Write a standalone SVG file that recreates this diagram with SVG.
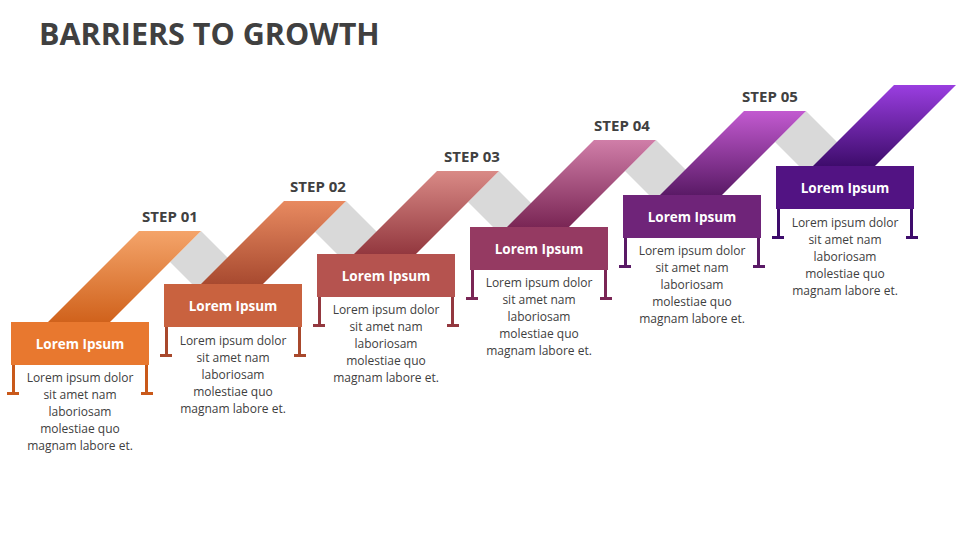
<svg xmlns="http://www.w3.org/2000/svg" width="960" height="540" viewBox="0 0 960 540">
<style>
.t{font-family:"Open Sans","Liberation Sans",sans-serif;font-weight:bold;font-size:30.5px;fill:#404040}
.s{font-family:"Open Sans","Liberation Sans",sans-serif;font-weight:bold;font-size:15px;fill:#404040;text-anchor:middle}
.h{font-family:"Open Sans","Liberation Sans",sans-serif;font-weight:bold;font-size:13.5px;fill:#fff;text-anchor:middle}
.b{font-family:"Open Sans","Liberation Sans",sans-serif;font-size:12px;fill:#404040;text-anchor:middle}
.g{fill:#d9d9d9}
</style>
<defs>
<linearGradient id="r1" x1="0" y1="1" x2="0" y2="0"><stop offset="0" stop-color="#d0621c"/><stop offset="1" stop-color="#f4a46a"/></linearGradient>
<linearGradient id="r2" x1="0" y1="1" x2="0" y2="0"><stop offset="0" stop-color="#a84a30"/><stop offset="1" stop-color="#e88a60"/></linearGradient>
<linearGradient id="r3" x1="0" y1="1" x2="0" y2="0"><stop offset="0" stop-color="#93383f"/><stop offset="1" stop-color="#d98a86"/></linearGradient>
<linearGradient id="r4" x1="0" y1="1" x2="0" y2="0"><stop offset="0" stop-color="#7a2655"/><stop offset="1" stop-color="#d07ea8"/></linearGradient>
<linearGradient id="r5" x1="0" y1="1" x2="0" y2="0"><stop offset="0" stop-color="#5a1a66"/><stop offset="1" stop-color="#c25ad0"/></linearGradient>
<linearGradient id="r6" x1="0" y1="1" x2="0" y2="0"><stop offset="0" stop-color="#3e0c6c"/><stop offset="1" stop-color="#9a3ee0"/></linearGradient>
</defs>
<rect width="960" height="540" fill="#fff"/>
<text class="t" x="39" y="45">BARRIERS TO GROWTH</text>
<g id="connectors">
<polygon class="g" points="201,231 254,284 192,284 170,262"/>
<polygon class="g" points="346,201 399,254 337,254 315,232"/>
<polygon class="g" points="499,171 555,227 493,227 468,202"/>
<polygon class="g" points="656,140 711,195 649,195 625,171"/>
<polygon class="g" points="806,111 861,166 799,166 775,142"/>
<polygon points="48,322 110,322 201,231 139,231" fill="url(#r1)"/>
<polygon points="201,284 263,284 346,201 284,201" fill="url(#r2)"/>
<polygon points="354,254 416,254 499,171 437,171" fill="url(#r3)"/>
<polygon points="507,227 569,227 656,140 594,140" fill="url(#r4)"/>
<polygon points="660,195 722,195 806,111 744,111" fill="url(#r5)"/>
<polygon points="813,166 875,166 956,85 894,85" fill="url(#r6)"/>
</g>
<text class="s" x="170" y="222">STEP 01</text>
<text class="s" x="318" y="192">STEP 02</text>
<text class="s" x="472" y="162">STEP 03</text>
<text class="s" x="622" y="131">STEP 04</text>
<text class="s" x="770" y="102">STEP 05</text>
<g id="box1"><rect x="11" y="322" width="138" height="43" fill="#e8782f"/><rect x="12" y="365" width="3" height="28" fill="#c9591a"/><rect x="145" y="365" width="3" height="28" fill="#c9591a"/><rect x="7" y="392" width="12" height="3" fill="#c9591a"/><rect x="141" y="392" width="12" height="3" fill="#c9591a"/><text class="h" x="80" y="349">Lorem Ipsum</text><text class="b" x="80" y="382">Lorem ipsum dolor<tspan x="80" dy="17">sit amet nam</tspan><tspan x="80" dy="17">laboriosam</tspan><tspan x="80" dy="17">molestiae quo</tspan><tspan x="80" dy="17">magnam labore et.</tspan></text></g>
<g id="box2"><rect x="164" y="284" width="138" height="43" fill="#c9623f"/><rect x="165" y="327" width="3" height="28" fill="#a8482c"/><rect x="298" y="327" width="3" height="28" fill="#a8482c"/><rect x="160" y="354" width="12" height="3" fill="#a8482c"/><rect x="294" y="354" width="12" height="3" fill="#a8482c"/><text class="h" x="233" y="311">Lorem Ipsum</text><text class="b" x="233" y="345">Lorem ipsum dolor<tspan x="233" dy="17">sit amet nam</tspan><tspan x="233" dy="17">laboriosam</tspan><tspan x="233" dy="17">molestiae quo</tspan><tspan x="233" dy="17">magnam labore et.</tspan></text></g>
<g id="box3"><rect x="317" y="254" width="138" height="43" fill="#b5534f"/><rect x="318" y="297" width="3" height="28" fill="#93383f"/><rect x="451" y="297" width="3" height="28" fill="#93383f"/><rect x="313" y="324" width="12" height="3" fill="#93383f"/><rect x="447" y="324" width="12" height="3" fill="#93383f"/><text class="h" x="386" y="281">Lorem Ipsum</text><text class="b" x="386" y="314">Lorem ipsum dolor<tspan x="386" dy="17">sit amet nam</tspan><tspan x="386" dy="17">laboriosam</tspan><tspan x="386" dy="17">molestiae quo</tspan><tspan x="386" dy="17">magnam labore et.</tspan></text></g>
<g id="box4"><rect x="470" y="227" width="138" height="43" fill="#953a62"/><rect x="471" y="270" width="3" height="28" fill="#7a2655"/><rect x="604" y="270" width="3" height="28" fill="#7a2655"/><rect x="466" y="297" width="12" height="3" fill="#7a2655"/><rect x="600" y="297" width="12" height="3" fill="#7a2655"/><text class="h" x="539" y="254">Lorem Ipsum</text><text class="b" x="539" y="287">Lorem ipsum dolor<tspan x="539" dy="17">sit amet nam</tspan><tspan x="539" dy="17">laboriosam</tspan><tspan x="539" dy="17">molestiae quo</tspan><tspan x="539" dy="17">magnam labore et.</tspan></text></g>
<g id="box5"><rect x="623" y="195" width="138" height="43" fill="#6f2479"/><rect x="624" y="238" width="3" height="28" fill="#5a1a66"/><rect x="757" y="238" width="3" height="28" fill="#5a1a66"/><rect x="619" y="265" width="12" height="3" fill="#5a1a66"/><rect x="753" y="265" width="12" height="3" fill="#5a1a66"/><text class="h" x="692" y="222">Lorem Ipsum</text><text class="b" x="692" y="255">Lorem ipsum dolor<tspan x="692" dy="17">sit amet nam</tspan><tspan x="692" dy="17">laboriosam</tspan><tspan x="692" dy="17">molestiae quo</tspan><tspan x="692" dy="17">magnam labore et.</tspan></text></g>
<g id="box6"><rect x="776" y="166" width="138" height="43" fill="#521383"/><rect x="777" y="209" width="3" height="28" fill="#3e0c6c"/><rect x="910" y="209" width="3" height="28" fill="#3e0c6c"/><rect x="772" y="236" width="12" height="3" fill="#3e0c6c"/><rect x="906" y="236" width="12" height="3" fill="#3e0c6c"/><text class="h" x="845" y="193">Lorem Ipsum</text><text class="b" x="845" y="227">Lorem ipsum dolor<tspan x="845" dy="17">sit amet nam</tspan><tspan x="845" dy="17">laboriosam</tspan><tspan x="845" dy="17">molestiae quo</tspan><tspan x="845" dy="17">magnam labore et.</tspan></text></g>
</svg>
